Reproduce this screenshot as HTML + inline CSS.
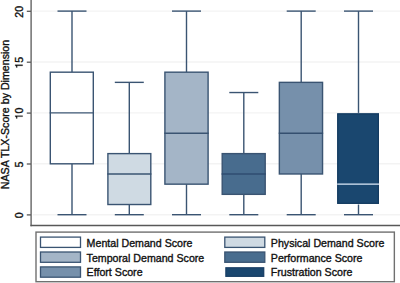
<!DOCTYPE html>
<html><head><meta charset="utf-8"><style>
html,body{margin:0;padding:0;background:#fff;}
svg{display:block;font-family:"Liberation Sans",sans-serif;}
text{fill:#111;stroke:#111;stroke-width:0.35px;}
</style></head><body>
<svg width="400" height="283" viewBox="0 0 400 283">
<rect width="400" height="283" fill="#fff"/>
<line x1="33" y1="214.70" x2="400" y2="214.70" stroke="#f3f3f3" stroke-width="1.4"/>
<line x1="33" y1="163.80" x2="400" y2="163.80" stroke="#f3f3f3" stroke-width="1.4"/>
<line x1="33" y1="112.90" x2="400" y2="112.90" stroke="#f3f3f3" stroke-width="1.4"/>
<line x1="33" y1="62.00" x2="400" y2="62.00" stroke="#f3f3f3" stroke-width="1.4"/>
<line x1="33" y1="11.10" x2="400" y2="11.10" stroke="#f3f3f3" stroke-width="1.4"/>
<line x1="72.0" y1="11.10" x2="72.0" y2="72.18" stroke="#3a5472" stroke-width="1.4"/>
<line x1="72.0" y1="163.80" x2="72.0" y2="214.70" stroke="#3a5472" stroke-width="1.4"/>
<line x1="57.5" y1="11.10" x2="86.5" y2="11.10" stroke="#3a5472" stroke-width="1.4"/>
<line x1="57.5" y1="214.70" x2="86.5" y2="214.70" stroke="#3a5472" stroke-width="1.4"/>
<rect x="50.30" y="72.18" width="43.00" height="91.62" fill="#ffffff" stroke="#3a5472" stroke-width="1.4"/>
<line x1="49.70" y1="112.90" x2="93.90" y2="112.90" stroke="#3a5472" stroke-width="1.4"/>
<line x1="129.3" y1="82.36" x2="129.3" y2="153.62" stroke="#3a5472" stroke-width="1.4"/>
<line x1="129.3" y1="204.52" x2="129.3" y2="214.70" stroke="#3a5472" stroke-width="1.4"/>
<line x1="114.80000000000001" y1="82.36" x2="143.8" y2="82.36" stroke="#3a5472" stroke-width="1.4"/>
<line x1="114.80000000000001" y1="214.70" x2="143.8" y2="214.70" stroke="#3a5472" stroke-width="1.4"/>
<rect x="107.90" y="153.62" width="42.90" height="50.90" fill="#cfdae3" stroke="#3a5472" stroke-width="1.4"/>
<line x1="107.30" y1="173.98" x2="151.40" y2="173.98" stroke="#3a5472" stroke-width="1.4"/>
<line x1="186.5" y1="11.10" x2="186.5" y2="72.18" stroke="#3a5472" stroke-width="1.4"/>
<line x1="186.5" y1="184.16" x2="186.5" y2="214.70" stroke="#3a5472" stroke-width="1.4"/>
<line x1="172.0" y1="11.10" x2="201.0" y2="11.10" stroke="#3a5472" stroke-width="1.4"/>
<line x1="172.0" y1="214.70" x2="201.0" y2="214.70" stroke="#3a5472" stroke-width="1.4"/>
<rect x="164.90" y="72.18" width="43.20" height="111.98" fill="#a4b5c7" stroke="#3a5472" stroke-width="1.4"/>
<line x1="164.30" y1="133.26" x2="208.70" y2="133.26" stroke="#3a5472" stroke-width="1.4"/>
<line x1="243.8" y1="92.54" x2="243.8" y2="153.62" stroke="#3a5472" stroke-width="1.4"/>
<line x1="243.8" y1="194.34" x2="243.8" y2="214.70" stroke="#3a5472" stroke-width="1.4"/>
<line x1="229.3" y1="92.54" x2="258.3" y2="92.54" stroke="#3a5472" stroke-width="1.4"/>
<line x1="229.3" y1="214.70" x2="258.3" y2="214.70" stroke="#3a5472" stroke-width="1.4"/>
<rect x="222.20" y="153.62" width="43.00" height="40.72" fill="#486c8e" stroke="#3a5472" stroke-width="1.4"/>
<line x1="221.60" y1="173.98" x2="265.80" y2="173.98" stroke="#2f4d70" stroke-width="1.4"/>
<line x1="301.2" y1="11.10" x2="301.2" y2="82.36" stroke="#3a5472" stroke-width="1.4"/>
<line x1="301.2" y1="173.98" x2="301.2" y2="214.70" stroke="#3a5472" stroke-width="1.4"/>
<line x1="286.7" y1="11.10" x2="315.7" y2="11.10" stroke="#3a5472" stroke-width="1.4"/>
<line x1="286.7" y1="214.70" x2="315.7" y2="214.70" stroke="#3a5472" stroke-width="1.4"/>
<rect x="279.35" y="82.36" width="43.20" height="91.62" fill="#7690ab" stroke="#3a5472" stroke-width="1.4"/>
<line x1="278.75" y1="133.26" x2="323.15" y2="133.26" stroke="#344f6f" stroke-width="1.4"/>
<line x1="358.5" y1="11.10" x2="358.5" y2="112.90" stroke="#3a5472" stroke-width="1.4"/>
<line x1="358.5" y1="204.52" x2="358.5" y2="214.70" stroke="#3a5472" stroke-width="1.4"/>
<line x1="344.0" y1="11.10" x2="373.0" y2="11.10" stroke="#3a5472" stroke-width="1.4"/>
<line x1="344.0" y1="214.70" x2="373.0" y2="214.70" stroke="#3a5472" stroke-width="1.4"/>
<rect x="337.2" y="113.35" width="41.80" height="90.55" fill="#1a476f"/>
<rect x="337.8" y="113.94999999999999" width="40.60" height="89.35" fill="none" stroke="#143b60" stroke-width="1.2"/>
<line x1="337.20" y1="184.21" x2="379.00" y2="184.21" stroke="#dce9f7" stroke-width="1.3"/>
<line x1="31.1" y1="0" x2="31.1" y2="226.2" stroke="#585858" stroke-width="1.3"/>
<line x1="30.45" y1="225.55" x2="400" y2="225.55" stroke="#585858" stroke-width="1.4"/>
<line x1="26.8" y1="214.90" x2="31" y2="214.90" stroke="#585858" stroke-width="1.3"/>
<text transform="translate(22.6,215.40) rotate(-90)" text-anchor="middle" font-size="10.6">0</text>
<line x1="26.8" y1="164.00" x2="31" y2="164.00" stroke="#585858" stroke-width="1.3"/>
<text transform="translate(22.6,164.50) rotate(-90)" text-anchor="middle" font-size="10.6">5</text>
<line x1="26.8" y1="113.10" x2="31" y2="113.10" stroke="#585858" stroke-width="1.3"/>
<g transform="translate(22.6,113.60) rotate(-90)"><path d="M-3.021,0.000 L-2.088,0.000 L-2.088,-7.452 L-2.820,-7.452 L-3.116,-6.943 L-3.509,-6.519 L-4.092,-6.275 L-4.823,-6.201 L-4.823,-5.459 L-3.021,-5.459 Z" fill="#111" stroke="#111" stroke-width="0.3"/><text x="0.000" y="0" font-size="10.6">0</text></g>
<line x1="26.8" y1="62.20" x2="31" y2="62.20" stroke="#585858" stroke-width="1.3"/>
<g transform="translate(22.6,62.70) rotate(-90)"><path d="M-3.021,0.000 L-2.088,0.000 L-2.088,-7.452 L-2.820,-7.452 L-3.116,-6.943 L-3.509,-6.519 L-4.092,-6.275 L-4.823,-6.201 L-4.823,-5.459 L-3.021,-5.459 Z" fill="#111" stroke="#111" stroke-width="0.3"/><text x="0.000" y="0" font-size="10.6">5</text></g>
<line x1="26.8" y1="11.30" x2="31" y2="11.30" stroke="#585858" stroke-width="1.3"/>
<text transform="translate(22.6,11.80) rotate(-90)" text-anchor="middle" font-size="10.6">20</text>
<text transform="translate(8.6,114.5) rotate(-90)" text-anchor="middle" font-size="10.65">NASA TLX-Score by Dimension</text>
<rect x="36" y="232.1" width="358.35" height="49.6" fill="#fff" stroke="#707070" stroke-width="1.4"/>
<rect x="40.5" y="237.1" width="40.0" height="10.3" fill="#ffffff" stroke="#3a5472" stroke-width="1.3"/>
<text x="86.6" y="247.1" font-size="10.65">Mental Demand Score</text>
<rect x="224.8" y="237.1" width="40.0" height="10.3" fill="#cfdae3" stroke="#3a5472" stroke-width="1.3"/>
<text x="270.8" y="247.1" font-size="10.65">Physical Demand Score</text>
<rect x="40.5" y="252.0" width="40.0" height="10.3" fill="#a4b5c7" stroke="#3a5472" stroke-width="1.3"/>
<text x="86.6" y="261.7" font-size="10.65">Temporal Demand Score</text>
<rect x="224.8" y="252.0" width="40.0" height="10.3" fill="#486c8e" stroke="#3a5472" stroke-width="1.3"/>
<text x="270.8" y="261.7" font-size="10.65">Performance Score</text>
<rect x="40.5" y="266.9" width="40.0" height="10.3" fill="#7690ab" stroke="#3a5472" stroke-width="1.3"/>
<text x="86.6" y="276.3" font-size="10.65">Effort Score</text>
<rect x="225.9" y="267.79999999999995" width="37.8" height="8.5" fill="#1a476f" stroke="#1a3f66" stroke-width="1.3"/>
<text x="270.8" y="276.3" font-size="10.65">Frustration Score</text>
</svg>
</body></html>
